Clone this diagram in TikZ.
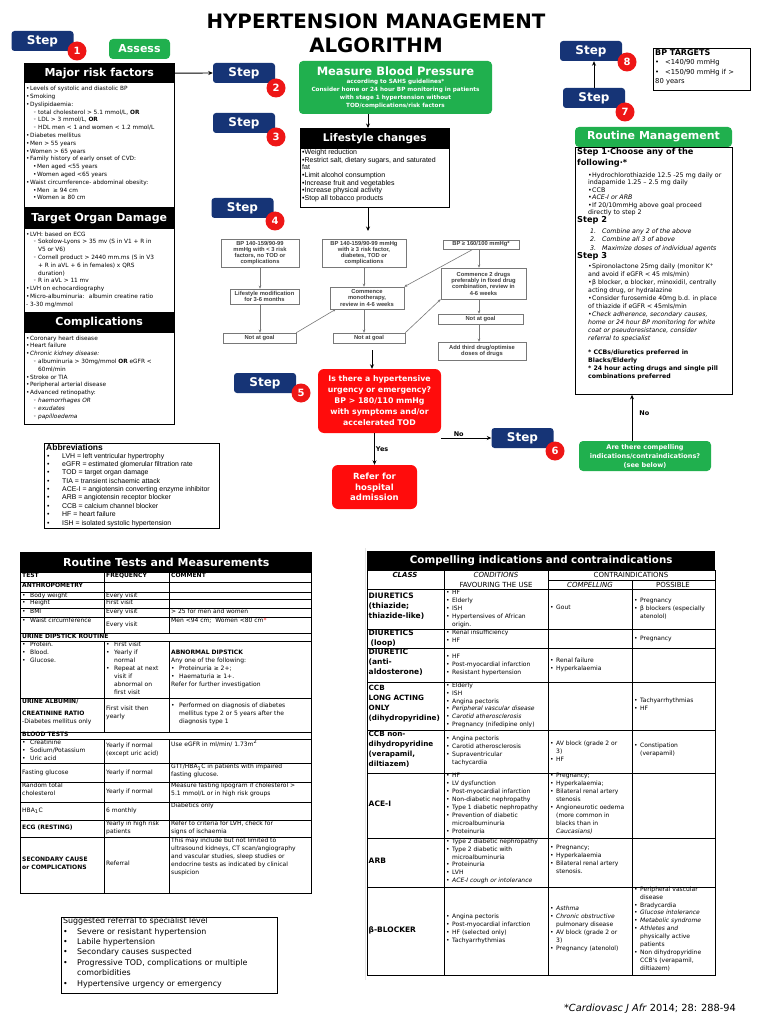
\documentclass[tikz,border=0pt]{standalone}
\usepackage{fontspec}
\setmainfont{Liberation Sans}
\newfontfamily\comic{DejaVu Sans}
\usetikzlibrary{arrows.meta,positioning}

\definecolor{stepblue}{RGB}{22,52,118}
\definecolor{numred}{RGB}{238,22,22}
\definecolor{okgreen}{RGB}{32,176,78}
\definecolor{alertred}{RGB}{255,12,12}
\definecolor{flowgray}{RGB}{120,120,120}

% bullets and indents for the lists
\newcommand{\hbul}{\makebox[4pt][l]{•}}
\newcommand{\hsub}{\hspace*{7pt}\makebox[5pt][l]{◦}}
\newcommand{\tbul}{\makebox[8pt][l]{•}}
\newcommand{\tind}{\hspace*{8pt}}
\newcommand{\cbul}{\makebox[6pt][l]{•}}
\newcommand{\cind}{\hspace*{6pt}}

\tikzset{
  stepbox/.style={fill=stepblue, rounded corners=3pt, text=white,
    font=\comic\bfseries\fontsize{12}{12}\selectfont,
    minimum width=62pt, minimum height=20pt, inner sep=0pt},
  stepnum/.style={circle, fill=numred, text=white,
    font=\comic\bfseries\fontsize{10}{10}\selectfont,
    minimum size=19pt, inner sep=0pt},
  hdrbar/.style={fill=black, text=white, anchor=north west, inner sep=0pt,
    font=\comic\bfseries\fontsize{11}{11}\selectfont},
  boxframe/.style={draw, line width=0.9pt, anchor=north west, inner sep=0pt},
  greenbox/.style={fill=okgreen, rounded corners=4pt, text=white, align=center, inner sep=0pt},
  redbox/.style={fill=alertred, rounded corners=6pt, text=white, align=center, inner sep=0pt},
  bodytext/.style={anchor=north west, align=left, inner sep=0pt,
    font=\comic\fontsize{5.8}{7.8}\selectfont},
  rmtext/.style={anchor=north west, align=left, inner sep=0pt,
    font=\comic\fontsize{6.3}{7.6}\selectfont},
  rmhead/.style={anchor=north west, align=left, inner sep=0pt,
    font=\comic\bfseries\fontsize{8.2}{11}\selectfont},
  arialtext/.style={anchor=north west, align=left, inner sep=0pt,
    font=\fontsize{7}{7.6}\selectfont},
  flowbox/.style={draw=flowgray, line width=0.6pt, align=center, inner sep=0pt,
    text=black!75, font=\bfseries\fontsize{5.8}{6.3}\selectfont},
  flowline/.style={draw=flowgray, line width=0.6pt, -{Stealth[length=3pt,width=2.6pt]}},
  connector/.style={line width=0.9pt, -{Stealth[length=4.5pt,width=4pt]}},
  yesno/.style={font=\comic\bfseries\fontsize{6.5}{6.5}\selectfont, inner sep=1pt},
  cell/.style={anchor=north west, align=left, inner sep=0pt,
    font=\comic\fontsize{6}{8}\selectfont},
  boldcell/.style={cell, font=\comic\bfseries\fontsize{6}{8}\selectfont},
  cmp/.style={cell, font=\comic\fontsize{6}{7.9}\selectfont},
  classcell/.style={cell, font=\comic\bfseries\fontsize{7.5}{10}\selectfont},
  indhead/.style={inner sep=0pt, font=\comic\fontsize{7}{7}\selectfont},
  tablegrid/.style={line width=0.6pt}
}

\begin{document}
\begin{tikzpicture}[x=1pt,y=-1pt]
\fill[white] (0,0) rectangle (768,1024);
\useasboundingbox (0,0) rectangle (768,1024);

% title
\node[align=center, font=\comic\bfseries\fontsize{19.8}{24}\selectfont] (title) at (376,33)
  {HYPERTENSION MANAGEMENT\\ALGORITHM};

% step 1: assess
\node[stepbox] (step1) at (42.5,41) {Step};
\node[stepnum] (num1) at (77,51) {1};
\node[greenbox, minimum width=61pt, minimum height=20pt,
  font=\comic\bfseries\fontsize{11}{11}\selectfont] (assess) at (139.5,49) {Assess};

\node[boxframe, minimum width=150pt, minimum height=361pt] (riskbox) at (24,63) {};
\node[hdrbar, minimum width=150pt, minimum height=20pt] (riskhdr) at (24,63) {Major risk factors};
\node[bodytext] (risktext) at (26,86) {\hbul Levels of systolic and diastolic BP\\
\hbul Smoking\\
\hbul Dyslipidaemia:\\
\hsub total cholesterol > 5.1 mmol/L, \textbf{OR}\\
\hsub LDL > 3 mmol/L, \textbf{OR}\\
\hsub HDL men < 1 and women < 1.2 mmol/L\\
\hbul Diabetes mellitus\\
\hbul Men > 55 years\\
\hbul Women > 65 years\\
\hbul Family history of early onset of CVD:\\
\hspace*{7pt}\hbul Men aged <55 years\\
\hspace*{7pt}\hbul Women aged <65 years\\
\hbul Waist circumference- abdominal obesity:\\
\hspace*{7pt}\hbul Men ~≥ 94 cm\\
\hspace*{7pt}\hbul Women ≥ 80 cm};

\node[hdrbar, minimum width=150pt, minimum height=22pt] (todhdr) at (24,207) {Target Organ Damage};
\node[bodytext] (todtext) at (26,231.5) {\hbul LVH: based on ECG\\
\hsub Sokolow-Lyons > 35 mv (S in V1 + R in\\
\hspace*{12pt}V5 or V6)\\
\hsub Cornell product > 2440 mm.ms (S in V3\\
\hspace*{12pt}+ R in aVL + 6 in females) x QRS\\
\hspace*{12pt}duration)\\
\hsub R in aVL > 11 mv\\
\hbul LVH on echocardiography\\
\hbul Micro-albuminuria:~ albumin creatine ratio\\
- 3-30 mg/mmol};

\node[hdrbar, minimum width=150pt, minimum height=21pt] (cplhdr) at (24,312) {Complications};
\node[bodytext] (cpltext) at (26,335.5) {\hbul Coronary heart disease\\
\hbul Heart failure\\
\hbul \textit{Chronic kidney disease:}\\
\hsub albuminuria > 30mg/mmol \textbf{OR} eGFR <\\
\hspace*{12pt}60ml/min\\
\hbul Stroke or TIA\\
\hbul Peripheral arterial disease\\
\hbul Advanced retinopathy:\\
\hsub \textit{haemorrhages OR}\\
\hsub \textit{exudates}\\
\hsub \textit{papilloedema}};

% steps 2 to 4
\node[stepbox] (step2) at (244,73) {Step};
\node[stepnum] (num2) at (276,88) {2};
\node[stepbox] (step3) at (244,123) {Step};
\node[stepnum] (num3) at (276,137) {3};
\node[stepbox] (step4) at (242.5,208) {Step};
\node[stepnum] (num4) at (275,221) {4};
\draw[connector] (riskhdr.east) -- (step2.west);

\node[greenbox, minimum width=193pt, minimum height=53pt,
  font=\comic\bfseries\fontsize{5.7}{8}\selectfont] (measure) at (395.5,87.5)
  {{\fontsize{11.5}{12}\selectfont Measure Blood Pressure}\\according to SAHS guidelines*\\
   Consider home or 24 hour BP monitoring in patients\\with stage 1 hypertension without\\
   TOD/complications/risk factors};

\node[boxframe, minimum width=149pt, minimum height=79pt] (lifebox) at (300,128) {};
\node[hdrbar, minimum width=149pt, minimum height=21pt,
  font=\comic\bfseries\fontsize{10.5}{10.5}\selectfont] (lifehdr) at (300,128) {Lifestyle changes};
\node[arialtext] (lifetext) at (302,149.5) {•Weight reduction\\
•Restrict salt, dietary sugars, and saturated\\
fat\\
•Limit alcohol consumption\\
•Increase fruit and vegetables\\
•Increase physical activity\\
•Stop all tobacco products};

\coordinate (axis) at (368,0);
\coordinate (flowstart) at (368,231);
\draw[connector] (measure.south -| axis) -- (lifebox.north -| axis);
\draw[connector] (lifebox.south -| axis) -- (flowstart);

% treatment flow
\node[flowbox, minimum width=78pt, minimum height=28pt] (fa) at (260,253)
  {BP 140-159/90-99\\mmHg with < 3 risk\\factors, no TOD or\\complications};
\node[flowbox, minimum width=84pt, minimum height=28pt] (fb) at (364,253)
  {BP 140-159/90-99 mmHg\\with ≥ 3 risk factor,\\diabetes, TOD or\\complications};
\node[flowbox, minimum width=76pt, minimum height=9pt] (fc) at (481,244.5) {BP ≥ 160/100 mmHg*};
\node[flowbox, minimum width=69pt, minimum height=15pt] (fd) at (264.5,296.5)
  {Lifestyle modification\\for 3-6 months};
\node[flowbox, minimum width=74pt, minimum height=22pt] (fe) at (367,298)
  {Commence\\monotherapy,\\review in 4-6 weeks};
\node[flowbox, minimum width=85pt, minimum height=31pt] (ff) at (483.5,283.5)
  {Commence 2 drugs\\preferably in fixed drug\\combination, review in\\4-6 weeks};
\node[flowbox, minimum width=73pt, minimum height=10pt] (fg) at (259.5,338) {Not at goal};
\node[flowbox, minimum width=72pt, minimum height=10pt] (fh) at (369,338) {Not at goal};
\node[flowbox, minimum width=85pt, minimum height=10pt] (fi) at (480.5,319) {Not at goal};
\node[flowbox, minimum width=88pt, minimum height=18pt] (fj) at (482,351)
  {Add third drug/optimise\\doses of drugs};

\coordinate (fcx) at ([xshift=-2pt]fc.south);
\draw[flowline] (fa.south) -- (fa.south |- fd.north);
\draw[flowline] (fa.south |- fd.south) -- (fa.south |- fg.north);
\draw[flowline] (fb.south) -- (fb.south |- fe.north);
\draw[flowline] (fb.south |- fe.south) -- (fb.south |- fh.north);
\draw[flowline] (fcx) -- (fcx |- ff.north);
\draw[flowline] (fcx |- ff.south) -- (fcx |- fi.north);
\draw[flowline] (fcx |- fi.south) -- (fcx |- fj.north);
\draw[flowline] (fg.north east) -- ([xshift=6pt]fe.south west);
\draw[flowline] (fh.north east) -- (ff.south west);
\draw[flowline] ([xshift=-8pt]fc.south) -- (fe.north east);

% step 5: urgency
\node[stepbox] (step5) at (265,383) {Step};
\node[stepnum] (num5) at (301,393) {5};
\node[redbox, minimum width=123pt, minimum height=64pt,
  font=\comic\bfseries\fontsize{7.8}{11}\selectfont] (urgent) at (379.5,401)
  {Is there a hypertensive\\urgency or emergency?\\BP > 180/110 mmHg\\with symptoms and/or\\accelerated TOD};
\coordinate (flowend) at (372,350);
\draw[connector] (flowend) -- (flowend |- urgent.north);
\node[redbox, minimum width=85pt, minimum height=44pt,
  font=\comic\bfseries\fontsize{8.5}{10.5}\selectfont] (refer) at (374.5,487)
  {Refer for\\hospital\\admission};
\draw[connector] (refer.north |- urgent.south) -- node[yesno, right] (yeslbl) {Yes} (refer.north);

% step 6: compelling indications
\node[stepbox] (step6) at (522.5,438) {Step};
\node[stepnum] (num6) at (555,451) {6};
\draw[connector] (urgent.east |- step6.west) -- node[yesno, above, pos=0.35] (nolbl) {No} (step6.west);
\node[greenbox, minimum width=132pt, minimum height=30pt,
  font=\comic\bfseries\fontsize{6.5}{9}\selectfont] (question) at (645,456)
  {Are there compelling\\indications/contraindications?\\(see below)};

% step 7 and 8: routine management, targets
\node[stepbox] (step8) at (591,51) {Step};
\node[stepnum] (num8) at (627,62) {8};
\node[stepbox] (step7) at (594,98) {Step};
\node[stepnum] (num7) at (625,112) {7};
\draw[connector] (step7.north) -- (step7.north |- step8.south);

\node[boxframe, minimum width=97pt, minimum height=42pt, line width=0.7pt] (targetbox) at (653,48) {};
\node[anchor=north west, inner sep=0pt, font=\comic\bfseries\fontsize{8}{9}\selectfont]
  (targettitle) at (655,49) {BP TARGETS};
\node[anchor=north west, align=left, inner sep=0pt, font=\comic\fontsize{6.8}{9.5}\selectfont]
  (targettext) at (655,59.5)
  {\makebox[10pt][l]{•}<140/90 mmHg\\\makebox[10pt][l]{•}<150/90 mmHg if >\\80 years};

\node[greenbox, minimum width=157pt, minimum height=20pt,
  font=\comic\bfseries\fontsize{11}{11}\selectfont] (routinehdr) at (653.5,137) {Routine Management};
\node[boxframe, minimum width=157pt, minimum height=247pt] (routinebox) at (575,147) {};
\node[rmhead] (rmstep1) at (577,148) {Step 1·Choose any of the\\following·*};
\node[rmtext, font=\comic\fontsize{6.3}{7.5}\selectfont] (rmlist1) at (588,172.5)
  {\hbul Hydrochlorothiazide 12.5 -25 mg daily or\\indapamide 1.25 – 2.5 mg daily\\
   \hbul CCB\\\hbul \textit{ACE-I or ARB}\\\hbul If 20/10mmHg above goal proceed\\directly to step 2};
\node[rmhead] (rmstep2) at (577,216) {Step 2};
\node[rmtext, font=\comic\itshape\fontsize{6.3}{8.5}\selectfont] (rmlist2) at (590,228.5)
  {1.\hspace{6pt}Combine any 2 of the above\\2.\hspace{6pt}Combine all 3 of above\\
   3.\hspace{6pt}Maximize doses of individual agents};
\node[rmhead] (rmstep3) at (577,252) {Step 3};
\node[rmtext, font=\comic\fontsize{6.2}{8}\selectfont] (rmlist3) at (588,263.5)
  {\hbul Spironolactone 25mg daily (monitor K\textsuperscript{+}\\and avoid if eGFR < 45 mls/min)\\
   \hbul β blocker, α blocker, minoxidil, centrally\\acting drug, or hydralazine\\
   \hbul Consider furosemide 40mg b.d. in place\\of thiazide if eGFR < 45mls/min\\
   \hbul \textit{Check adherence, secondary causes,}\\\textit{home or 24 hour BP monitoring for white}\\
   \textit{coat or pseudoresistance, consider}\\\textit{referral to specialist}};
\node[rmtext, font=\comic\bfseries\fontsize{6.2}{8}\selectfont] (rmnotes) at (588,350)
  {{*} CCBs/diuretics preferred in\\Blacks/Elderly\\{*} 24 hour acting drugs and single pill\\
   combinations preferred};

\coordinate (qtop) at (632,441);
\draw[connector] (qtop) -- node[yesno, right, pos=0.6, xshift=6pt] (nolbl2) {No} (qtop |- routinebox.south);

% abbreviations
\node[boxframe, minimum width=175pt, minimum height=85pt, line width=0.7pt] (abbrbox) at (44,443) {};
\node[anchor=north west, inner sep=0pt, font=\bfseries\fontsize{8.5}{9}\selectfont] (abbrtitle) at (46,444) {Abbreviations};
\node[arialtext, font=\fontsize{6.9}{8.35}\selectfont] (abbrlist) at (47,453)
  {\makebox[15pt][l]{•}LVH = left ventricular hypertrophy\\
   \makebox[15pt][l]{•}eGFR = estimated glomerular filtration rate\\
   \makebox[15pt][l]{•}TOD = target organ damage\\
   \makebox[15pt][l]{•}TIA = transient ischaemic attack\\
   \makebox[15pt][l]{•}ACE-I = angiotensin converting enzyme inhibitor\\
   \makebox[15pt][l]{•}ARB = angiotensin receptor blocker\\
   \makebox[15pt][l]{•}CCB = calcium channel blocker\\
   \makebox[15pt][l]{•}HF = heart failure\\
   \makebox[15pt][l]{•}ISH = isolated systolic hypertension};

% routine tests table
\draw[gray!20, line width=0.5pt] (365,548) -- (365,980);
\node[hdrbar, minimum width=292pt, minimum height=20pt,
  font=\comic\bfseries\fontsize{11}{11}\selectfont] (testhdr) at (20,552) {Routine Tests and Measurements};
\draw[tablegrid] (20,572) rectangle (311,893);
\foreach \y in {582,592,599,608,617,633,641,698,732,739,763,782,802,820,837}
  \draw[tablegrid] (20,\y) -- (311,\y);
\foreach \ya/\yb in {572/633,641/732,739/893} {
  \draw[tablegrid] (104,\ya) -- (104,\yb);
  \draw[tablegrid] (169,\ya) -- (169,\yb);
}
\node[boldcell] (tc0a) at (22,573) {TEST};
\node[boldcell] (tc0b) at (106,573) {FREQUENCY};
\node[boldcell] (tc0c) at (171,573) {COMMENT};
\node[boldcell] (tc1a) at (22,583) {ANTHROPOMETRY};
\node[cell] (tc2a) at (22,592.3) {\tbul Body weight};
\node[cell] (tc2b) at (106,592.3) {Every visit};
\node[cell] (tc3a) at (22,600) {\tbul Height};
\node[cell] (tc3b) at (106,600) {First visit};
\node[cell] (tc4a) at (22,609) {\tbul BMI};
\node[cell] (tc4b) at (106,609) {Every visit};
\node[cell] (tc4c) at (171,609) {> 25 for men and women};
\node[cell] (tc5a) at (22,618) {\tbul Waist circumference};
\node[cell] (tc5b) at (106,621.5) {Every visit};
\node[cell] (tc5c) at (171,618) {Men <94 cm;~ Women <80 cm\textcolor{red}{*}};
\node[boldcell] (tc6a) at (22,633.5) {URINE DIPSTICK ROUTINE};
\node[cell] (tc7a) at (22,641.5) {\tbul Protein.\\\tbul Blood.\\\tbul Glucose.};
\node[cell] (tc7b) at (106,641.5) {\tbul First visit\\\tbul Yearly if\\\tind normal\\\tbul Repeat at next\\
  \tind visit if\\\tind abnormal on\\\tind first visit};
\node[cell] (tc7c) at (171,649.5) {\textbf{ABNORMAL DIPSTICK}\\Any one of the following:\\
  \tbul Proteinuria ≥ 2+;\\\tbul Haematuria ≥ 1+.\\Refer for further investigation};
\node[cell] (tc8a) at (22,699) {\textbf{URINE ALBUMIN/}\\[4pt]\textbf{CREATININE RATIO}\\-Diabetes mellitus only};
\node[cell] (tc8b) at (106,705.5) {First visit then\\yearly};
\node[cell] (tc8c) at (171,703) {\tbul Performed on diagnosis of diabetes\\\tind mellitus type 2 or 5 years after the\\
  \tind diagnosis type 1};
\node[boldcell] (tc9a) at (22,732.3) {BLOOD TESTS};
\node[cell] (tc10a) at (22,739.5) {\tbul Creatinine\\\tbul Sodium/Potassium\\\tbul Uric acid};
\node[cell] (tc10b) at (106,743) {Yearly if normal\\(except uric acid)};
\node[cell] (tc10c) at (171,740) {Use eGFR in ml/min/ 1.73m\textsuperscript{2}};
\node[cell] (tc11a) at (22,769.5) {Fasting glucose};
\node[cell] (tc11b) at (106,769.5) {Yearly if normal};
\node[cell] (tc11c) at (171,764) {GTT/HBA\textsubscript{1}C in patients with impaired\\fasting glucose.};
\node[cell] (tc12a) at (22,783) {Random total\\cholesterol};
\node[cell] (tc12b) at (106,788.5) {Yearly if normal};
\node[cell] (tc12c) at (171,783) {Measure fasting lipogram if cholesterol >\\5.1 mmol/L or in high risk groups};
\node[cell] (tc13a) at (22,807.5) {HBA\textsubscript{1}C};
\node[cell] (tc13b) at (106,807.5) {6 monthly};
\node[cell] (tc13c) at (171,803) {Diabetics only};
\node[boldcell] (tc14a) at (22,825) {ECG (RESTING)};
\node[cell] (tc14b) at (106,821) {Yearly in high risk\\patients};
\node[cell] (tc14c) at (171,821) {Refer to criteria for LVH, check for\\signs of ischaemia};
\node[boldcell] (tc15a) at (22,857) {SECONDARY CAUSE\\or COMPLICATIONS};
\node[cell] (tc15b) at (106,861) {Referral};
\node[cell] (tc15c) at (171,838) {This may include but not limited to\\ultrasound kidneys, CT scan/angiography\\
  and vascular studies, sleep studies or\\endocrine tests as indicated by clinical\\suspicion};

% referral box
\node[boxframe, minimum width=216pt, minimum height=76pt, line width=0.7pt] (referralbox) at (61,917) {};
\node[anchor=north west, align=left, inner sep=0pt, font=\comic\fontsize{7.9}{10.4}\selectfont]
  (referraltext) at (63,917.5)
  {Suggested referral to specialist level\\
   \makebox[14pt][l]{•}Severe or resistant hypertension\\
   \makebox[14pt][l]{•}Labile hypertension\\
   \makebox[14pt][l]{•}Secondary causes suspected\\
   \makebox[14pt][l]{•}Progressive TOD, complications or multiple\\
   \hspace*{14pt}comorbidities\\
   \makebox[14pt][l]{•}Hypertensive urgency or emergency};

% compelling indications table
\node[hdrbar, minimum width=348pt, minimum height=19pt,
  font=\comic\bfseries\fontsize{10.3}{10.3}\selectfont] (indhdr) at (367,551) {Compelling indications and contraindications};
\draw[tablegrid] (367,570) rectangle (715,975);
\draw[tablegrid] (548,580) -- (715,580);
\foreach \y in {589,629,648,682,730,773,838,887}
  \draw[tablegrid] (367,\y) -- (715,\y);
\draw[tablegrid] (444,570) -- (444,975);
\draw[tablegrid] (548,570) -- (548,975);
\draw[tablegrid] (632,580) -- (632,975);
\node[indhead, font=\comic\bfseries\itshape\fontsize{7}{7}\selectfont] (ih1) at (405,575) {CLASS};
\node[indhead, font=\comic\itshape\fontsize{7}{7}\selectfont] (ih2) at (496,574.5) {CONDITIONS};
\node[indhead] (ih3) at (496,584.5) {FAVOURING THE USE};
\node[indhead] (ih4) at (631,575) {CONTRAINDICATIONS};
\node[indhead, font=\comic\itshape\fontsize{7}{7}\selectfont] (ih5) at (590,584.5) {COMPELLING};
\node[indhead] (ih6) at (673,584.5) {POSSIBLE};

\node[classcell] (k1a) at (368.5,593) {DIURETICS\\(thiazide;\\thiazide-like)};
\node[cmp] (k1b) at (446,590) {\cbul HF\\\cbul Elderly\\\cbul ISH\\\cbul Hypertensives of African\\\cind origin.};
\node[cmp] (k1c) at (550,605) {\cbul Gout};
\node[cmp] (k1d) at (634,598) {\cbul Pregnancy\\\cbul β blockers (especially\\\cind atenolol)};

\node[classcell] (k2a) at (368.5,629.5) {DIURETICS\\\hspace*{2pt}(loop)};
\node[cmp] (k2b) at (446,630) {\cbul Renal insufficiency\\\cbul HF};
\node[cmp] (k2d) at (634,636) {\cbul Pregnancy};

\node[classcell] (k3a) at (368.5,649) {DIURETIC\\(anti-\\aldosterone)};
\node[cmp] (k3b) at (446,654) {\cbul HF\\\cbul Post-myocardial infarction\\\cbul Resistant hypertension};
\node[cmp] (k3c) at (550,658) {\cbul Renal failure\\\cbul Hyperkalaemia};

\node[classcell, font=\comic\bfseries\fontsize{7.2}{10}\selectfont] (k4a) at (368.5,684.5)
  {CCB\\LONG ACTING\\ONLY\\(dihydropyridine)};
\node[cmp] (k4b) at (446,682.5) {\cbul Elderly\\\cbul ISH\\\cbul Angina pectoris\\\cbul \textit{Peripheral vascular disease}\\
  \cbul \textit{Carotid atherosclerosis}\\\cbul Pregnancy (nifedipine only)};
\node[cmp] (k4d) at (634,698) {\cbul Tachyarrhythmias\\\cbul HF};

\node[classcell, font=\comic\bfseries\fontsize{7.2}{10.3}\selectfont] (k5a) at (368.5,730.5)
  {CCB non-\\dihydropyridine\\(verapamil,\\diltiazem)};
\node[cmp] (k5b) at (446,736) {\cbul Angina pectoris\\\cbul Carotid atherosclerosis\\\cbul Supraventricular\\\cind tachycardia};
\node[cmp] (k5c) at (550,741) {\cbul AV block (grade 2 or\\\cind 3)\\\cbul HF};
\node[cmp] (k5d) at (634,743) {\cbul Constipation\\\cind (verapamil)};

\node[classcell] (k6a) at (368.5,801) {ACE-I};
\node[cmp, font=\comic\fontsize{6}{8.1}\selectfont] (k6b) at (446,772.5)
  {\cbul HF\\\cbul LV dysfunction\\\cbul Post-myocardial infarction\\\cbul Non-diabetic nephropathy\\
   \cbul Type 1 diabetic nephropathy\\\cbul Prevention of diabetic\\\cind microalbuminuria\\\cbul Proteinuria};
\node[cmp, font=\comic\fontsize{6}{8.1}\selectfont] (k6c) at (550,772.5)
  {\cbul Pregnancy;\\\cbul Hyperkalaemia;\\\cbul Bilateral renal artery\\\cind stenosis\\
   \cbul Angioneurotic oedema\\\cind (more common in\\\cind blacks than in\\\cind \textit{Caucasians)}};

\node[classcell] (k7a) at (368.5,858) {ARB};
\node[cmp] (k7b) at (446,838.5) {\cbul Type 2 diabetic nephropathy\\\cbul Type 2 diabetic with\\\cind microalbuminuria\\
  \cbul Proteinuria\\\cbul LVH\\\cbul \textit{ACE-I cough or intolerance}};
\node[cmp] (k7c) at (550,845) {\cbul Pregnancy;\\\cbul Hyperkalaemia\\\cbul Bilateral renal artery\\\cind stenosis.};

\node[classcell] (k8a) at (368.5,926) {β-BLOCKER};
\node[cmp] (k8b) at (446,914) {\cbul Angina pectoris\\\cbul Post-myocardial infarction\\\cbul HF (selected only)\\
  \cbul Tachyarrhythmias};
\node[cmp] (k8c) at (550,906) {\cbul \textit{Asthma}\\\cbul \textit{Chronic obstructive}\\\cind pulmonary disease\\
  \cbul AV block (grade 2 or\\\cind 3)\\\cbul Pregnancy (atenolol)};
\node[cmp] (k8d) at (634,886.5) {\cbul Peripheral vascular\\\cind disease\\\cbul Bradycardia\\\cbul \textit{Glucose intolerance}\\
  \cbul \textit{Metabolic syndrome}\\\cbul \textit{Athletes and}\\\cind physically active\\\cind patients\\
  \cbul Non dihydropyridine\\\cind CCB's (verapamil,\\\cind diltiazem)};

\node[font=\comic\fontsize{9.8}{10}\selectfont, inner sep=0pt] (citation) at (650,1009)
  {*\textit{Cardiovasc J Afr} 2014; 28: 288-94};
\end{tikzpicture}
\end{document}
